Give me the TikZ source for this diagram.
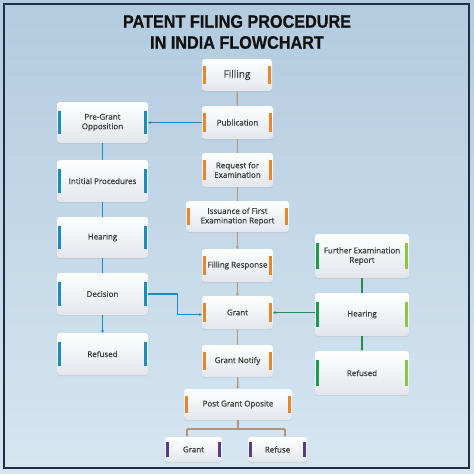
\documentclass[tikz,border=0pt]{standalone}
\usepackage{fontspec}
\setmainfont{Open Sans}
\newfontfamily\boxfont{Open Sans}[FakeBold=0.6]
\newfontfamily\titlefont{Liberation Sans}[BoldFeatures={FakeBold=0.9}]
\usetikzlibrary{calc,shadows,arrows.meta}
\definecolor{bgtop}{HTML}{B3CBDF}
\definecolor{bgbot}{HTML}{D6E6F1}
\definecolor{framec}{HTML}{1C2E48}
\definecolor{titlec}{HTML}{111111}
\definecolor{txt}{HTML}{3C3C3C}
\definecolor{boxbot}{HTML}{E2E6EC}
\definecolor{corange}{HTML}{E8862E}
\definecolor{cteal}{HTML}{1C8CB8}
\definecolor{cgreen}{HTML}{1E9A4E}
\definecolor{clime}{HTML}{8DC63F}
\definecolor{cpurple}{HTML}{5A3C8E}
\definecolor{ctan}{HTML}{B39579}
\definecolor{cgline}{HTML}{2A8A55}
\tikzset{
  box/.style={rectangle, rounded corners=3pt, top color=white, bottom color=boxbot,
    drop shadow={shadow xshift=0pt, shadow yshift=-1.2pt, opacity=0.16},
    inner sep=0pt, align=center, text=txt, font=\boxfont\fontsize{8}{9.5}\selectfont},
  bars/.style 2 args={path picture={
    \fill[#1, sharp corners] ($(path picture bounding box.south west)!0.21!(path picture bounding box.north west)+(0.6pt,0)$)
      rectangle ($(path picture bounding box.south west)!0.79!(path picture bounding box.north west)+(4pt,0)$);
    \fill[#2, sharp corners] ($(path picture bounding box.south east)!0.21!(path picture bounding box.north east)+(-4pt,0)$)
      rectangle ($(path picture bounding box.south east)!0.79!(path picture bounding box.north east)+(-0.6pt,0)$);}},
  cbox/.style={box, bars={corange}{corange}},
  lbox/.style={box, bars={cteal}{cteal}, minimum width=91pt},
  rbox/.style={box, bars={cgreen}{clime}, minimum width=94pt},
  pbox/.style={box, bars={cpurple}{cpurple}, minimum height=25pt},
  cline/.style={draw=ctan, line width=1.1pt},
  tline/.style={draw=cteal, line width=1.1pt},
  gline/.style={draw=cgline, line width=1.1pt},
  tip/.style={-{Stealth[length=2.6pt,width=3pt]}},
  ttl/.style={font=\titlefont\bfseries\fontsize{18}{20}\selectfont, text=titlec, inner sep=0pt}
}
\begin{document}
\begin{tikzpicture}[x=1pt,y=-1pt]
\useasboundingbox (0,0) rectangle (474,474);
\shade[top color=bgtop, bottom color=bgbot] (0,0) rectangle (474,474);
\draw[framec, line width=1.6pt] (4,4) rectangle (469,468);

\node[ttl] (t1) at (237,21.5) {\scalebox{0.9}[1]{PATENT FILING PROCEDURE}};
\node[ttl] (t2) at (237,42.5) {\scalebox{0.9}[1]{IN INDIA FLOWCHART}};

% center column
\node[cbox, minimum width=70pt, minimum height=32pt, font=\boxfont\fontsize{10}{12}\selectfont] (filling) at (237,75) {Filling};
\node[cbox, minimum width=71pt, minimum height=33pt] (pub) at (237.5,122.5) {Publication};
\node[cbox, minimum width=71pt, minimum height=34pt] (req) at (237.5,170) {Request for\\Examination};
\node[cbox, minimum width=103pt, minimum height=31pt] (iss) at (237.5,216.5) {Issuance of First\\Examination Report};
\node[cbox, minimum width=71pt, minimum height=33pt] (fresp) at (237.5,265.5) {Filling Response};
\node[cbox, minimum width=71pt, minimum height=33pt] (grant) at (237.5,312.5) {Grant};
\node[cbox, minimum width=71pt, minimum height=32pt] (gnotify) at (237.5,361) {Grant Notify};
\node[cbox, minimum width=108pt, minimum height=31pt] (post) at (238,404.5) {Post Grant Oposite};
\node[pbox, minimum width=57pt] (bgrant) at (193.5,449.5) {Grant};
\node[pbox, minimum width=59pt] (brefuse) at (277.5,449.5) {Refuse};

% left column
\node[lbox, minimum height=41pt] (pregrant) at (102.5,122.5) {Pre-Grant\\Opposition};
\node[lbox, minimum height=42pt] (initial) at (102.5,181) {Intitial Procedures};
\node[lbox, minimum height=41pt] (lhearing) at (102.5,237.5) {Hearing};
\node[lbox, minimum height=42pt] (decision) at (102.5,294) {Decision};
\node[lbox, minimum height=42pt] (lrefused) at (102.5,354) {Refused};

% right column
\node[rbox, minimum height=44pt] (further) at (362,256) {Further Examination\\Report};
\node[rbox, minimum height=43pt] (rhearing) at (362,314.5) {Hearing};
\node[rbox, minimum height=44pt] (rrefused) at (362,373) {Refused};

% center connectors
\draw[cline] (filling) -- (pub);
\draw[cline] (pub) -- (req);
\draw[cline] (req) -- (iss);
\draw[cline, tip] (iss) -- (fresp);
\draw[cline, tip] (fresp) -- (grant);
\draw[cline] (grant) -- (gnotify);
\draw[cline, tip] (gnotify) -- (post);
\coordinate (sl) at (187,429);
\coordinate (sr) at (285,429);
\draw[cline] (post.south) -- (post.south |- sl);
\draw[cline] (sl) -- (sr);
\draw[cline, tip] (sl) -- (sl |- bgrant.north);
\draw[cline, tip] (sr) -- (sr |- brefuse.north);

% left connectors
\draw[tline, tip] (pub.west) -- (pregrant.east);
\draw[tline] (pregrant) -- (initial);
\draw[tline] (initial) -- (lhearing);
\draw[tline] (lhearing) -- (decision);
\draw[tline, tip] (decision) -- (lrefused);
\draw[tline, tip] (decision.east) -- ++(29.5,0) |- ([yshift=-2pt]grant.west);

% right connectors
\draw[gline, tip] (rhearing.west |- grant.east) -- (grant.east);
\draw[gline] (further) -- (rhearing);
\draw[gline, tip] (rhearing) -- (rrefused);
\end{tikzpicture}
\end{document}
